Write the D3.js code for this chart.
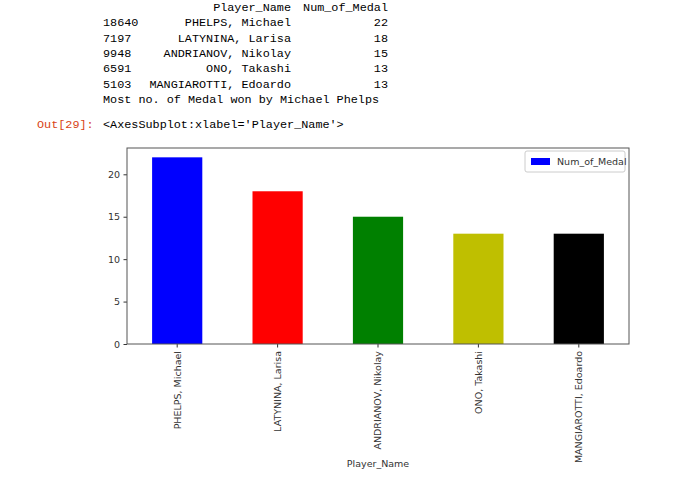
<!DOCTYPE html>
<html lang="en">
<head>
<meta charset="UTF-8">
<script src="https://cdn.jsdelivr.net/npm/d3@7"></script>
<style>
  body { margin: 0; background: #fff; }
  svg { display: block; }
</style>
</head>
<body>
<script>
// the data from the dataframe
var indexes = ["18640", "7197", "9948", "6591", "5103"];
var players = ["PHELPS, Michael", "LATYNINA, Larisa", "ANDRIANOV, Nikolay", "ONO, Takashi", "MANGIAROTTI, Edoardo"];
var medals = [22, 18, 15, 13, 13];
var colors = ["#0000ff", "#ff0000", "#008000", "#bfbf00", "#000000"];
var yTicks = [0, 5, 10, 15, 20];

var svg = d3.select("body").append("svg").attr("width", 678).attr("height", 483);

// console output on top
var mono = "'Liberation Mono', 'DejaVu Sans Mono', monospace";
var lines = [["", "Player_Name", "Num_of_Medal"]];
for (var i = 0; i < players.length; i++) lines.push([indexes[i], players[i], String(medals[i])]);
var out = svg.append("g").attr("font-family", mono).attr("font-size", 11.8).attr("fill", "#000");
lines.forEach(function (l, i) {
    var ly = 11 + i * 15.3;
    out.append("text").attr("x", 103).attr("y", ly).text(l[0]);
    out.append("text").attr("x", 291).attr("y", ly).attr("text-anchor", "end").text(l[1]);
    out.append("text").attr("x", 388).attr("y", ly).attr("text-anchor", "end").text(l[2]);
});
out.append("text").attr("x", 103).attr("y", 11 + 6 * 15.3).text("Most no. of Medal won by Michael Phelps");
out.append("text").attr("x", 37).attr("y", 128).attr("fill", "#d84315").text("Out[29]:");
out.append("text").attr("x", 103).attr("y", 128).text("<AxesSubplot:xlabel='Player_Name'>");

// chart
var mLeft = 127, mRight = 629, mTop = 148, mBottom = 344;
var x = d3.scaleBand().domain(players).range([mLeft, mRight]).paddingInner(0.5).paddingOuter(0.25);
var y = d3.scaleLinear().domain([0, 23.1]).range([mBottom, mTop]);

svg.append("g").selectAll("rect").data(players).enter().append("rect")
    .attr("x", function (d) { return x(d); })
    .attr("y", function (d, i) { return y(medals[i]); })
    .attr("width", x.bandwidth())
    .attr("height", function (d, i) { return mBottom - y(medals[i]); })
    .style("fill", function (d, i) { return colors[i]; });

var yAxis = svg.append("g").attr("transform", "translate(" + mLeft + ",0)")
    .call(d3.axisLeft(y).tickValues(yTicks).tickSize(3.5).tickPadding(3.5));
var xAxis = svg.append("g").attr("transform", "translate(0," + mBottom + ")")
    .call(d3.axisBottom(x).tickSize(3.5).tickPadding(3.5));
xAxis.selectAll("text")
    .attr("transform", "rotate(-90)")
    .attr("text-anchor", "end")
    .attr("x", -7).attr("y", 0).attr("dy", "0.35em");
[xAxis, yAxis].forEach(function (a) {
    a.select(".domain").remove();
    a.selectAll("text").attr("font-family", "'DejaVu Sans', sans-serif").attr("font-size", 9.5).attr("fill", "#333");
    a.selectAll("line").attr("stroke", "#333");
});
svg.append("rect").attr("x", mLeft).attr("y", mTop).attr("width", mRight - mLeft).attr("height", mBottom - mTop)
    .style("fill", "none").style("stroke", "#555").style("stroke-width", 1);

svg.append("text").attr("x", (mLeft + mRight) / 2).attr("y", 467).attr("text-anchor", "middle")
    .attr("font-family", "'DejaVu Sans', sans-serif").attr("font-size", 9.5).attr("fill", "#333").text("Player_Name");

// legend
var lg = svg.append("g");
lg.append("rect").attr("x", 525).attr("y", 151).attr("width", 100).attr("height", 21).attr("rx", 2)
    .style("fill", "#fff").style("stroke", "#ccc");
lg.append("rect").attr("x", 531).attr("y", 158).attr("width", 19).attr("height", 7).style("fill", colors[0]);
lg.append("text").attr("x", 557).attr("y", 165).attr("font-family", "'DejaVu Sans', sans-serif")
    .attr("font-size", 9.5).attr("fill", "#333").text("Num_of_Medal");
</script>
</body>
</html>
